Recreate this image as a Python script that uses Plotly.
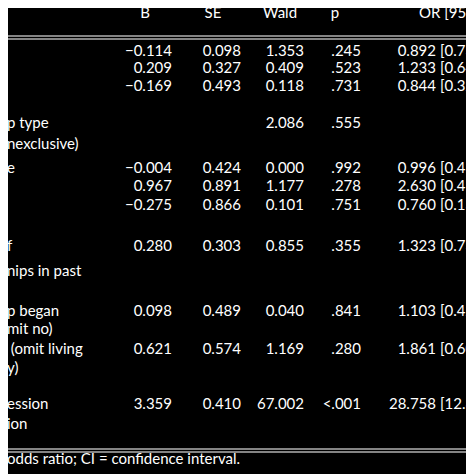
import plotly.graph_objects as go

# table content (cropped view of a logistic regression table)
headers = ["B", "SE", "Wald", "p", "OR [95% CI]"]
row_y = [50, 67, 85, 122, 167, 185, 204, 245, 310, 348, 403]
b_vals = ["\u22120.114", "0.209", "\u22120.169", "", "\u22120.004", "0.967", "\u22120.275", "0.280", "0.098", "0.621", "3.359"]
se_vals = ["0.098", "0.327", "0.493", "", "0.424", "0.891", "0.866", "0.303", "0.489", "0.574", "0.410"]
wald_vals = ["1.353", "0.409", "0.118", "2.086", "0.000", "1.177", "0.101", "0.855", "0.040", "1.169", "67.002"]
p_vals = [".245", ".523", ".731", ".555", ".992", ".278", ".751", ".355", ".841", ".280", "<.001"]
or_vals = ["0.892", "1.233", "0.844", "", "0.996", "2.630", "0.760", "1.323", "1.103", "1.861", "28.758"]
ci_vals = ["[0.735, 1.082]", "[0.649, 2.341]", "[0.321, 2.218]", "", "[0.434, 2.287]", "[0.459, 15.07]",
           "[0.139, 4.150]", "[0.730, 2.397]", "[0.423, 2.877]", "[0.604, 5.731]", "[12.87, 64.26]"]
label_y = [122, 143, 167, 245, 270, 310, 328, 348, 367, 403, 423]
labels = ["p type", "nexclusive)", "e", "f", "nips in past", "p began", "mit no)", " (omit living",
          "y)", "ession", "ion"]
footnote = "odds ratio; CI = confidence interval."

SHIFT = -6  # plotly draws "middle" text slightly low
font = dict(family="Lato, sans-serif", size=15, color="white")
fig = go.Figure()

def col(xpos, texts, ys, pos):
    fig.add_trace(go.Scatter(x=[xpos] * len(texts), y=[v + SHIFT for v in ys], mode="text",
                             text=texts, textposition=pos, textfont=font, showlegend=False,
                             hoverinfo="skip", cliponaxis=True))

col(164, b_vals, row_y, "middle left")
col(233, se_vals, row_y, "middle left")
col(296, wald_vals, row_y, "middle left")
col(353, p_vals, row_y, "middle left")
col(428, or_vals, row_y, "middle left")
col(432, ci_vals, row_y, "middle right")
col(-1, labels, label_y, "middle right")
col(-1, [footnote], [458], "middle right")

hdr_x = [137, 205, 272, 327]
col(0, [], [], "middle center")
fig.add_trace(go.Scatter(x=hdr_x, y=[12 + SHIFT] * 4, mode="text", text=headers[:4],
                         textposition="middle center", showlegend=False, hoverinfo="skip",
                         textfont=font))
col(411, [headers[4]], [12], "middle right")

line = dict(color="#b0b0b0", width=1.5)
shapes = [dict(type="line", xref="x", yref="y", x0=0, x1=474, y0=yy, y1=yy, line=line)
          for yy in (28, 31, 441, 444)]

fig.update_layout(
    width=474, height=474, margin=dict(l=0, r=0, t=0, b=0),
    paper_bgcolor="black", plot_bgcolor="black", shapes=shapes,
    xaxis=dict(range=[0, 474], visible=False, fixedrange=True),
    yaxis=dict(range=[474, 0], visible=False, fixedrange=True),
)
fig.write_html("out.html")
